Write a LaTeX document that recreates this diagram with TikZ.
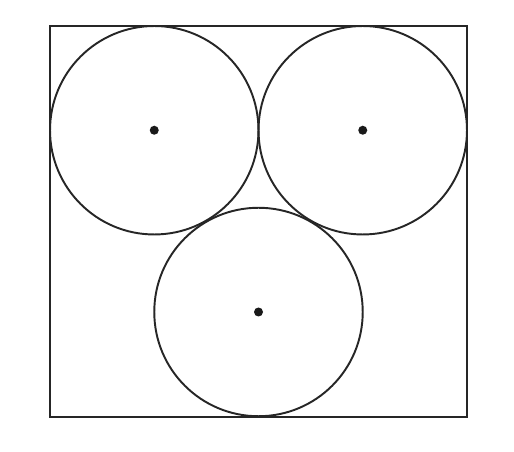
\documentclass[tikz,border=0pt]{standalone}
\usepackage{tikz}
\usetikzlibrary{positioning}
\tikzset{
    % Circle of the packing
    disc/.style={
        circle,
        draw=black!85,
        line width=1.1pt,
        minimum size=4.17cm,
        inner sep=0pt,
        outer sep=0pt
    },
    % Centre mark
    centre/.style={
        circle,
        fill=black!90,
        minimum size=0.18cm,
        inner sep=0pt
    },
    % Enclosing frame
    frame/.style={
        draw=black!85,
        line width=1.1pt
    }
}
\begin{document}
\begin{tikzpicture}[x=0.02cm, y=-0.02cm]
    \useasboundingbox (0,0) rectangle (514,452);

    % Frame
    \draw[frame] (50,26) rectangle (467,417);

    % Circles
    \node[disc] (left) at (154.25,130.25) {};
    \node[disc] (right) at (362.75,130.25) {};
    \node[disc] (bottom) at (258.5,312) {};

    % Centres
    \node[centre] (cl) at (left.center) {};
    \node[centre] (cr) at (right.center) {};
    \node[centre] (cb) at (bottom.center) {};
\end{tikzpicture}
\end{document}
